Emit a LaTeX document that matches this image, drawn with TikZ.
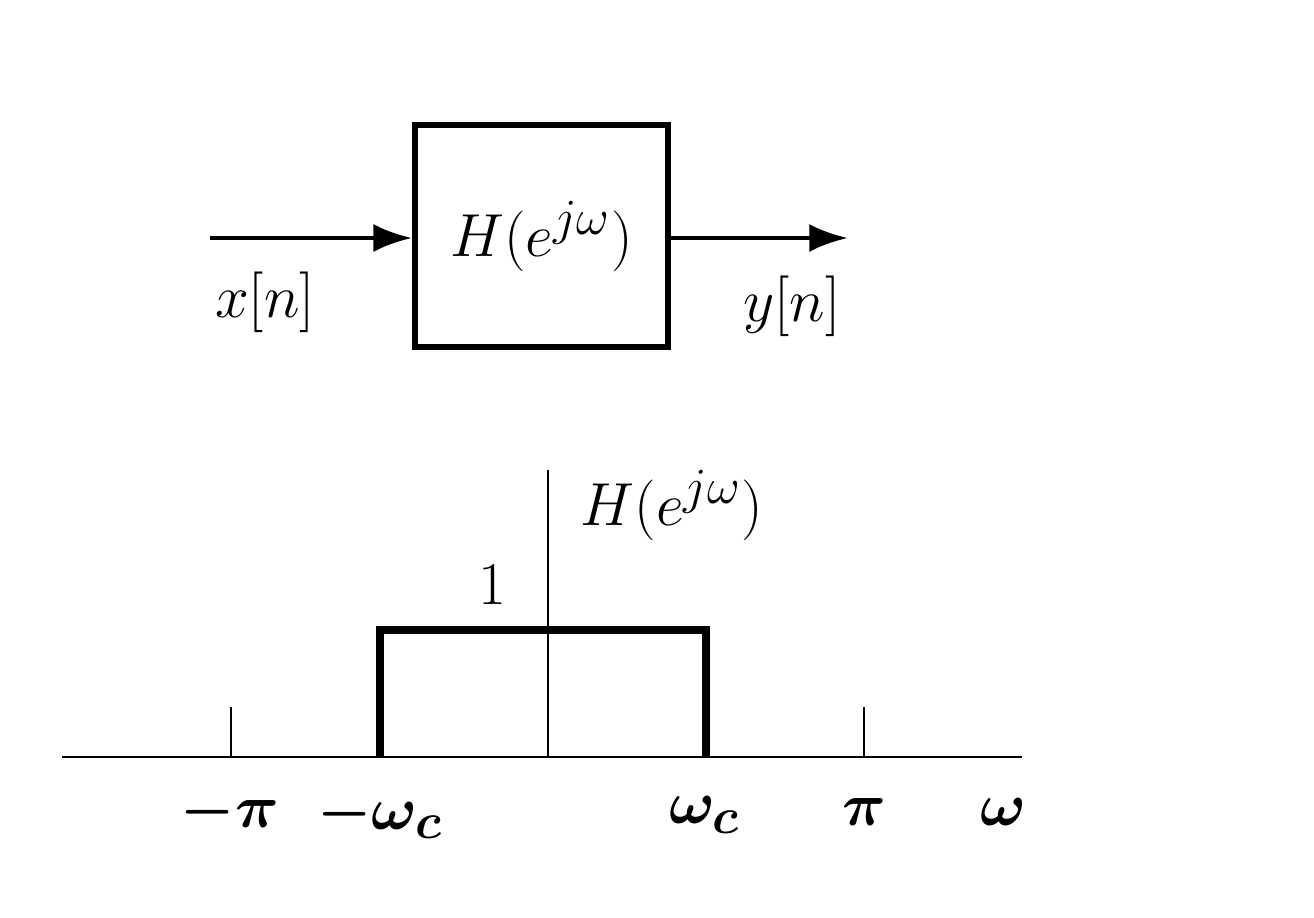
\documentclass[tikz,border=0pt]{standalone}
\usepackage{amsmath,bm}
\usetikzlibrary{arrows.meta}
\begin{document}
\begin{tikzpicture}[x=0.01cm,y=-0.01cm,
  lbl/.style={font=\fontsize{19}{22}\selectfont},
  thin/.style={line width=0.6pt},
  thick/.style={line width=1.6pt},
  sig/.style={line width=1.4pt,-{Latex[length=11pt,width=8pt]}}]
\useasboundingbox (0,0) rectangle (1314,918);
\node[draw,thick,minimum width=2.53cm,minimum height=2.22cm,inner sep=0,lbl] (box) at (541.5,236) {$H(e^{j\omega})$};
\coordinate (in) at (210,238);
\coordinate (out) at (848,238);
\draw[sig] (in) -- (box.west |- in);
\draw[sig] (box.east |- out) -- (out);
\node[lbl] (xn) at (265,302) {$x[n]$};
\node[lbl] (yn) at (792,306) {$y[n]$};
% plot
\coordinate (al) at (62,757); \coordinate (ar) at (1022,757);
\draw[thin] (al) -- (ar);
\coordinate (vb) at (548,757); \coordinate (vt) at (548,470);
\draw[thin] (vb) -- (vt);
\draw[line width=2pt] (380,757) -- (380,630) -- (706,630) -- (706,757);
\draw[thin] (231,757) -- (231,707);
\draw[thin] (864,757) -- (864,707);
\node[lbl] (hl) at (672,505) {$H(e^{j\omega})$};
\node[lbl] (one) at (492,585) {$1$};
\node[lbl] (mpi) at (230,812) {$\bm{-\pi}$};
\node[lbl] (mwc) at (380,815) {$\bm{-\omega_c}$};
\node[lbl] (wc) at (705,815) {$\bm{\omega_c}$};
\node[lbl] (pi) at (864,812) {$\bm{\pi}$};
\node[lbl] (w) at (1003,812) {$\bm{\omega}$};
\end{tikzpicture}
\end{document}
